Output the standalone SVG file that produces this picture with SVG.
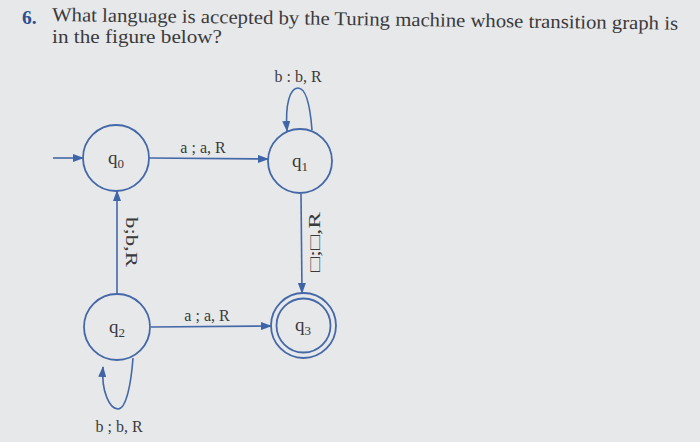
<svg xmlns="http://www.w3.org/2000/svg" width="700" height="442" viewBox="0 0 700 442">
<defs>
<marker id="ah" markerWidth="11" markerHeight="8" refX="10" refY="4" orient="auto" markerUnits="userSpaceOnUse">
<path d="M0,0 L11,4 L0,8 Z" fill="#3f65a8"/>
</marker>
<style>
.bg{fill:#e7e8ea}
.node{fill:none;stroke:#4468a8;stroke-width:1.8}
.edge{fill:none;stroke:#4468a8;stroke-width:1.6;marker-end:url(#ah)}
.t{font-family:"Liberation Serif","DejaVu Serif",serif;fill:#3a3a3c}
.q{font-size:19px;text-anchor:middle}
.lbl{font-size:16px;text-anchor:middle}
.title{font-size:19.5px}
</style>
</defs>
<rect class="bg" x="0" y="0" width="700" height="442"/>
<g id="title">
<text class="t title" x="22" y="24" style="fill:#2d4f8f;font-weight:bold">6.</text>
<text class="t title" x="52" y="21" textLength="626" lengthAdjust="spacingAndGlyphs" transform="rotate(0.8 52 21)">What language is accepted by the Turing machine whose transition graph is</text>
<text class="t title" x="52" y="43" textLength="170" lengthAdjust="spacingAndGlyphs">in the figure below?</text>
</g>
<g id="connectors">
<line class="edge" x1="53" y1="158" x2="83" y2="158"/>
<line class="edge" x1="149" y1="158" x2="268" y2="159"/>
<path class="edge" d="M312,130 C310,104 306,88 298,88 C290,88 285,104 287,131"/>
<line class="edge" x1="301" y1="194" x2="302" y2="293"/>
<line class="edge" x1="117" y1="294" x2="117" y2="191"/>
<line class="edge" x1="151" y1="327" x2="271" y2="326"/>
<path class="edge" d="M133,358 C131,385 126,409 118,409 C110,409 101,392 103,367"/>
<text class="t lbl" x="203" y="153">a ; a, R</text>
<text class="t lbl" x="298" y="82">b : b, R</text>
<text class="t lbl" x="207" y="321">a ; a, R</text>
<text class="t lbl" x="119" y="432">b ; b, R</text>
<text class="t lbl" x="-25" y="0" style="text-anchor:start" textLength="50" lengthAdjust="spacingAndGlyphs" transform="translate(126 242) rotate(90)">b;b,R</text>
<text class="t lbl" x="-30" y="0" style="text-anchor:start" textLength="60" lengthAdjust="spacingAndGlyphs" transform="translate(320 242) rotate(-90)">□;□,R</text>
</g>
<g id="q0">
<circle class="node" cx="116" cy="158" r="33"/>
<text class="t q" x="116" y="164">q<tspan font-size="13" dy="4">0</tspan></text>
</g>
<g id="q1">
<circle class="node" cx="300" cy="161" r="32"/>
<text class="t q" x="300" y="167">q<tspan font-size="13" dy="4">1</tspan></text>
</g>
<g id="q2">
<circle class="node" cx="117" cy="327" r="33"/>
<text class="t q" x="117" y="333">q<tspan font-size="13" dy="4">2</tspan></text>
</g>
<g id="q3">
<circle class="node" cx="303.5" cy="325.5" r="32.5"/>
<circle class="node" cx="303.5" cy="325.5" r="27"/>
<text class="t q" x="303" y="331">q<tspan font-size="13" dy="4">3</tspan></text>
</g>
</svg>
